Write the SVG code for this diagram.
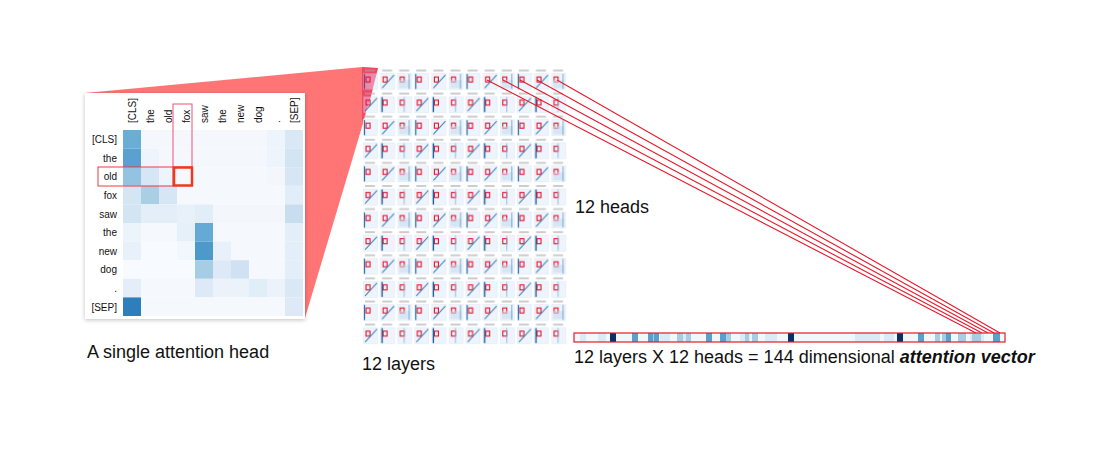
<svg xmlns="http://www.w3.org/2000/svg" width="1100" height="459" viewBox="0 0 1100 459">
<style>
text{font-family:"Liberation Sans",Arial,sans-serif;fill:#111}
.rl{font-size:10px;text-anchor:end}
.cl{font-size:10px}
.big{font-size:18px}
</style>
<defs>
<filter id="sh" x="-10%" y="-10%" width="120%" height="120%"><feDropShadow dx="0" dy="1" stdDeviation="2" flood-color="#000" flood-opacity="0.25"/></filter>
<g id="pb">
<rect x="3" y="1.5" width="10" height="2" fill="#ccc"/>
<rect x="1.5" y="5.5" width="14" height="16" fill="#eef4fb" stroke="#d8e6f3" stroke-width="0.5"/>
<rect x="4" y="9" width="4" height="5" fill="none" stroke="#e8102a" stroke-width="1.1"/>
</g>
<pattern id="gp" x="362" y="68" width="51.3" height="46.2" patternUnits="userSpaceOnUse">
<use href="#pb"/><line x1="2.5" y1="6" x2="2.5" y2="21" stroke="#2d6ea8" stroke-width="1.2"/>
<g transform="translate(17.1,0)"><use href="#pb"/><line x1="3" y1="20" x2="15" y2="7" stroke="#3a7fbd" stroke-width="1"/></g>
<g transform="translate(34.2,0)"><use href="#pb"/><rect x="3" y="12" width="11" height="8" fill="#c7dcef" opacity="0.6"/><line x1="13" y1="6" x2="13" y2="21" stroke="#5a98cc" stroke-width="0.8"/></g>
<g transform="translate(0,23.1)"><use href="#pb"/><line x1="3" y1="20" x2="15" y2="7" stroke="#3a7fbd" stroke-width="1"/></g>
<g transform="translate(17.1,23.1)"><use href="#pb"/><line x1="3" y1="6" x2="3" y2="21" stroke="#1f5f9e" stroke-width="1.4"/></g>
<g transform="translate(34.2,23.1)"><use href="#pb"/><line x1="8" y1="6" x2="8" y2="21" stroke="#7fb0da" stroke-width="0.8"/></g>
</pattern>
</defs>

<polygon id="zoomwedge" points="85,93 362,67 378,68 370,100 305,318" fill="#ff5252" opacity="0.8"/>

<g id="heatmap">
<rect x="85" y="93" width="220" height="226" fill="#fff" filter="url(#sh)"/>
<g id="cells">
<rect x="123" y="130" width="18" height="18.6" fill="#6aaed6"/><rect x="141" y="130" width="144" height="18.6" fill="#f4f8fd"/><rect x="267" y="130" width="18" height="18.6" fill="#eef4fb"/><rect x="285" y="130" width="18" height="18.6" fill="#dae8f6"/>
<rect x="123" y="148.6" width="18" height="18.6" fill="#5aa1d0"/><rect x="141" y="148.6" width="18" height="18.6" fill="#eef4fc"/><rect x="159" y="148.6" width="108" height="18.6" fill="#f4f8fd"/><rect x="267" y="148.6" width="18" height="18.6" fill="#eef4fb"/><rect x="285" y="148.6" width="18" height="18.6" fill="#d3e4f3"/>
<rect x="123" y="167.2" width="18" height="18.6" fill="#93c3e0"/><rect x="141" y="167.2" width="18" height="18.6" fill="#d6e6f4"/><rect x="159" y="167.2" width="18" height="18.6" fill="#eef4fc"/><rect x="177" y="167.2" width="90" height="18.6" fill="#f5f9fd"/><rect x="267" y="167.2" width="18" height="18.6" fill="#f3f7fc"/><rect x="285" y="167.2" width="18" height="18.6" fill="#d6e6f4"/>
<rect x="123" y="185.8" width="18" height="18.6" fill="#d4e5f4"/><rect x="141" y="185.8" width="18" height="18.6" fill="#a9cfe5"/><rect x="159" y="185.8" width="18" height="18.6" fill="#d6e6f4"/><rect x="177" y="185.8" width="108" height="18.6" fill="#f5f9fd"/><rect x="285" y="185.8" width="18" height="18.6" fill="#e1edf8"/>
<rect x="123" y="204.4" width="18" height="18.6" fill="#d3e4f3"/><rect x="141" y="204.4" width="36" height="18.6" fill="#e4eef9"/><rect x="177" y="204.4" width="18" height="18.6" fill="#e8f1fa"/><rect x="195" y="204.4" width="18" height="18.6" fill="#e1edf8"/><rect x="213" y="204.4" width="72" height="18.6" fill="#f3f7fc"/><rect x="285" y="204.4" width="18" height="18.6" fill="#c9ddf0"/>
<rect x="123" y="223" width="18" height="18.6" fill="#ebf3fb"/><rect x="141" y="223" width="36" height="18.6" fill="#f5f9fd"/><rect x="177" y="223" width="18" height="18.6" fill="#e6f0f9"/><rect x="195" y="223" width="18" height="18.6" fill="#65aad4"/><rect x="213" y="223" width="72" height="18.6" fill="#f5f9fd"/><rect x="285" y="223" width="18" height="18.6" fill="#e4eef9"/>
<rect x="123" y="241.6" width="18" height="18.6" fill="#e8f1fa"/><rect x="141" y="241.6" width="36" height="18.6" fill="#f7fbff"/><rect x="177" y="241.6" width="18" height="18.6" fill="#f2f7fd"/><rect x="195" y="241.6" width="18" height="18.6" fill="#4d99ca"/><rect x="213" y="241.6" width="18" height="18.6" fill="#e8f1fa"/><rect x="231" y="241.6" width="54" height="18.6" fill="#f5f9fd"/><rect x="285" y="241.6" width="18" height="18.6" fill="#e4eef9"/>
<rect x="123" y="260.2" width="72" height="18.6" fill="#f7fbff"/><rect x="195" y="260.2" width="18" height="18.6" fill="#a6cde4"/><rect x="213" y="260.2" width="18" height="18.6" fill="#dde9f6"/><rect x="231" y="260.2" width="18" height="18.6" fill="#cfe1f2"/><rect x="249" y="260.2" width="36" height="18.6" fill="#f5f9fd"/><rect x="285" y="260.2" width="18" height="18.6" fill="#e4eef9"/>
<rect x="123" y="278.8" width="18" height="18.6" fill="#e3eef9"/><rect x="141" y="278.8" width="54" height="18.6" fill="#f5f9fd"/><rect x="195" y="278.8" width="18" height="18.6" fill="#dde9f6"/><rect x="213" y="278.8" width="36" height="18.6" fill="#ebf2fa"/><rect x="249" y="278.8" width="18" height="18.6" fill="#e1edf8"/><rect x="267" y="278.8" width="18" height="18.6" fill="#ebf2fa"/><rect x="285" y="278.8" width="18" height="18.6" fill="#dae8f6"/>
<rect x="123" y="297.4" width="18" height="18.6" fill="#2e7ebc"/><rect x="141" y="297.4" width="144" height="18.6" fill="#f5f9fd"/><rect x="285" y="297.4" width="18" height="18.6" fill="#dde9f6"/>
</g>
<g id="rowlabels">
<text class="rl" x="117" y="143">[CLS]</text><text class="rl" x="117" y="161.5">the</text><text class="rl" x="117" y="180">old</text><text class="rl" x="117" y="198.5">fox</text><text class="rl" x="117" y="217.5">saw</text><text class="rl" x="117" y="236">the</text><text class="rl" x="117" y="254.5">new</text><text class="rl" x="117" y="273">dog</text><text class="rl" x="117" y="291.5">.</text><text class="rl" x="117" y="310.5">[SEP]</text>
</g>
<g id="collabels">
<text class="cl" transform="translate(136,123) rotate(-90)">[CLS]</text><text class="cl" transform="translate(154,123) rotate(-90)">the</text><text class="cl" transform="translate(172,123) rotate(-90)">old</text><text class="cl" transform="translate(190,123) rotate(-90)">fox</text><text class="cl" transform="translate(208,123) rotate(-90)">saw</text><text class="cl" transform="translate(226,123) rotate(-90)">the</text><text class="cl" transform="translate(244,123) rotate(-90)">new</text><text class="cl" transform="translate(262,123) rotate(-90)">dog</text><text class="cl" transform="translate(280,123) rotate(-90)">.</text><text class="cl" transform="translate(298,123) rotate(-90)">[SEP]</text>
</g>
<rect x="173" y="104" width="19" height="63" fill="none" stroke="#f0507a" stroke-width="1"/>
<rect x="98" y="167" width="75" height="19" fill="none" stroke="#ee3a3a" stroke-width="1"/>
<rect x="174" y="167.5" width="18" height="18" fill="none" stroke="#ee3a1c" stroke-width="2.5"/>
</g>

<g id="grid">
<rect x="362" y="68" width="205.2" height="277.2" fill="url(#gp)"/>
<polygon points="362,67 378,68 370,100 362,122" fill="#e0104a" opacity="0.45"/>
</g>

<g id="connectors" stroke="#e8182a" stroke-width="1.1" fill="none">
<line x1="487" y1="80" x2="976" y2="333"/>
<line x1="503" y1="80" x2="982" y2="333"/>
<line x1="520" y1="80" x2="988" y2="333"/>
<line x1="537" y1="80" x2="994" y2="333"/>
<line x1="557" y1="80" x2="1000" y2="333"/>
</g>

<g id="vector">
<rect x="574" y="333" width="431" height="9" fill="#f3f7fc"/>
<g fill="#dce9f6"><rect x="580" y="333" width="6" height="9"/><rect x="598" y="333" width="8" height="9"/><rect x="660" y="333" width="10" height="9"/><rect x="683" y="333" width="8" height="9"/><rect x="740" y="333" width="10" height="9"/><rect x="765" y="333" width="12" height="9"/><rect x="855" y="333" width="25" height="9"/><rect x="884" y="333" width="10" height="9"/><rect x="970" y="333" width="14" height="9"/></g>
<g fill="#a8cbe6"><rect x="651" y="333" width="6" height="9"/><rect x="677" y="333" width="6" height="9"/><rect x="686" y="333" width="5" height="9"/><rect x="745" y="333" width="4" height="9"/><rect x="725" y="333" width="6" height="9"/><rect x="752" y="333" width="6" height="9"/><rect x="935" y="333" width="5" height="9"/><rect x="942" y="333" width="6" height="9"/><rect x="958" y="333" width="8" height="9"/><rect x="972" y="333" width="9" height="9"/></g>
<g fill="#5b9fd0"><rect x="632" y="333" width="6" height="9"/><rect x="648" y="333" width="5" height="9"/><rect x="654" y="333" width="5" height="9"/><rect x="706" y="333" width="6" height="9"/><rect x="720" y="333" width="6" height="9"/><rect x="918" y="333" width="6" height="9"/><rect x="946" y="333" width="5" height="9"/><rect x="993" y="333" width="7" height="9"/></g>
<g fill="#0e2d6b"><rect x="610" y="333" width="6" height="9"/><rect x="788" y="333" width="6" height="9"/><rect x="897" y="333" width="6" height="9"/></g>
<rect x="574" y="333" width="431" height="9" fill="none" stroke="#e8182a" stroke-width="1.2"/>
</g>

<g id="labels">
<text class="big" x="87" y="358">A single attention head</text>
<text class="big" x="575" y="213">12 heads</text>
<text class="big" x="362" y="370">12 layers</text>
<text class="big" x="574" y="363">12 layers X 12 heads = 144 dimensional <tspan font-weight="bold" font-style="italic">attention vector</tspan></text>
</g>
</svg>
